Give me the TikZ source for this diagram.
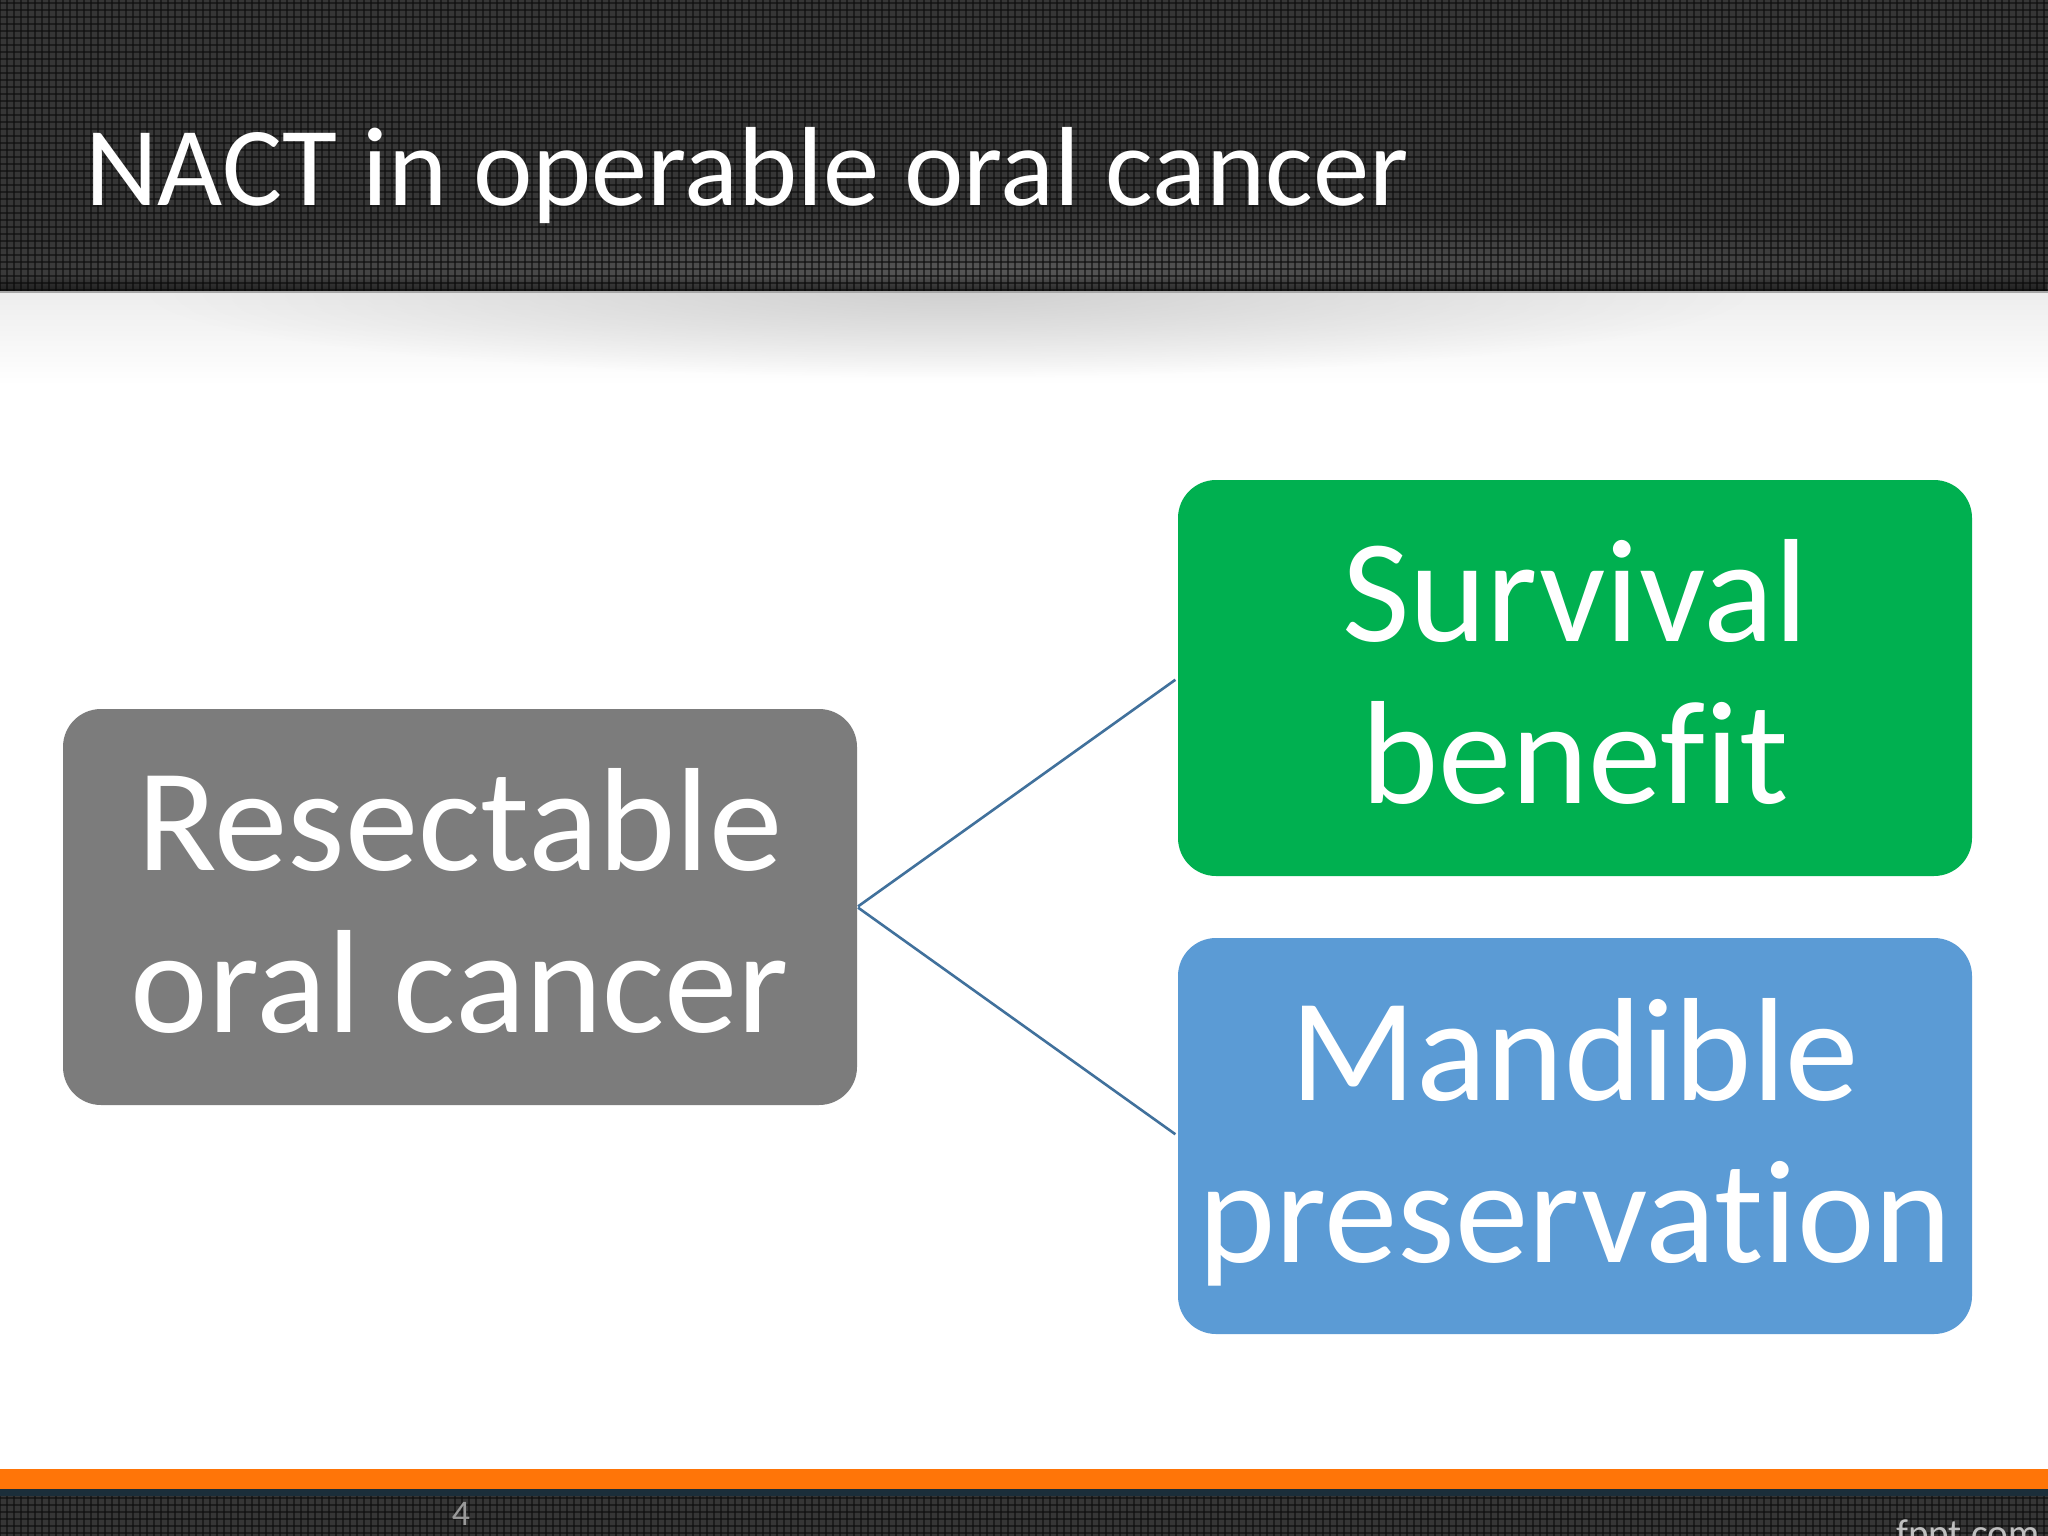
\documentclass[tikz,border=0pt]{standalone}
\usepackage{fontspec}
\setmainfont[Ligatures=NoCommon]{Carlito}
\usetikzlibrary{fadings}
\definecolor{gridbase}{HTML}{363636}
\definecolor{gridline}{HTML}{0E0E0E}
\definecolor{boxgray}{HTML}{7C7C7C}
\definecolor{boxgreen}{HTML}{00B050}
\definecolor{boxblue}{HTML}{5B9BD5}
\definecolor{linkblue}{HTML}{41719C}
\definecolor{barorange}{HTML}{FF7508}
\definecolor{footstrip}{HTML}{1B2E3A}
\tikzfading[name=softspot,inner color=transparent!0,outer color=transparent!100]
\tikzset{
  rbox/.style={rounded corners=38pt,minimum width=794pt,minimum height=396pt,inner sep=0pt,anchor=center},
  boxtext/.style={inner sep=0pt,text=white,align=center,font=\fontsize{147}{162}\selectfont},
  link/.style={linkblue,line width=2.6pt,shorten >=3pt,shorten <=1pt},
  gridstroke/.style={gridline,line width=1.5pt,opacity=.62}
}
\begin{document}
\begin{tikzpicture}[x=1pt,y=-1pt]
\useasboundingbox (0,0) rectangle (2048,1536);
\fill[white] (0,0) rectangle (2048,1536);
% shadow under header
\begin{scope}
\clip (0,292) rectangle (2048,420);
\fill[top color=black!7,bottom color=white] (0,292) rectangle (2048,385);
\fill[black!18,path fading=softspot,fit fading=true] (950,292) ellipse (800pt and 85pt);
\end{scope}
% header
\fill[gridbase] (0,0) rectangle (2048,292);
\begin{scope}
\clip (0,200) rectangle (2048,292);
\fill[white,opacity=.16,path fading=softspot,fit fading=true] (1000,270) ellipse (1150pt and 60pt);
\end{scope}
\foreach \gx in {0,7,...,2046} {\draw[gridstroke] (\gx,0) -- (\gx,292);}
\foreach \gy in {3,10,...,291} {\draw[gridstroke] (0,\gy) -- (2048,\gy);}
\fill[black,opacity=.45,path fading=north] (0,276) rectangle (2048,291);
\fill[black!35] (0,291) rectangle (2048,292.5);
% footer
\fill[gridbase] (0,1489) rectangle (2048,1536);
\foreach \gx in {0,7,...,2046} {\draw[gridstroke] (\gx,1489) -- (\gx,1536);}
\foreach \gy in {1498,1505,...,1535} {\draw[gridstroke] (0,\gy) -- (2048,\gy);}
\fill[footstrip] (0,1489) rectangle (2048,1496);
\fill[barorange] (0,1469) rectangle (2048,1489);
% title
\node[anchor=base west,inner sep=0pt,text=white,font=\fontsize{112.5}{130}\selectfont] (title) at (85,205) {NACT in operable oral cancer};
% boxes
\node[rbox,fill=boxgray,label={[boxtext,name=resT,yshift=6.5pt]center:Resectable\\oral cancer}] (res) at (460,907) {};
\node[rbox,fill=boxgreen,label={[boxtext,name=surT,yshift=6.5pt]center:Survival\\benefit}] (sur) at (1575,678) {};
\node[rbox,fill=boxblue,label={[boxtext,name=manT,yshift=-6.5pt]center:Mandible\\preservation}] (man) at (1575,1136) {};
\draw[link] (res.east) -- (sur.west);
\draw[link] (res.east) -- (man.west);
% footer texts
\node[anchor=base,inner sep=0pt,text=black!40,font=\fontsize{36}{40}\selectfont] (num) at (461,1525) {4};
\node[anchor=base west,inner sep=0pt,text=black!25,font=\fontsize{39}{46}\selectfont] (brand) at (1896,1546) {fppt.com};
\end{tikzpicture}
\end{document}
